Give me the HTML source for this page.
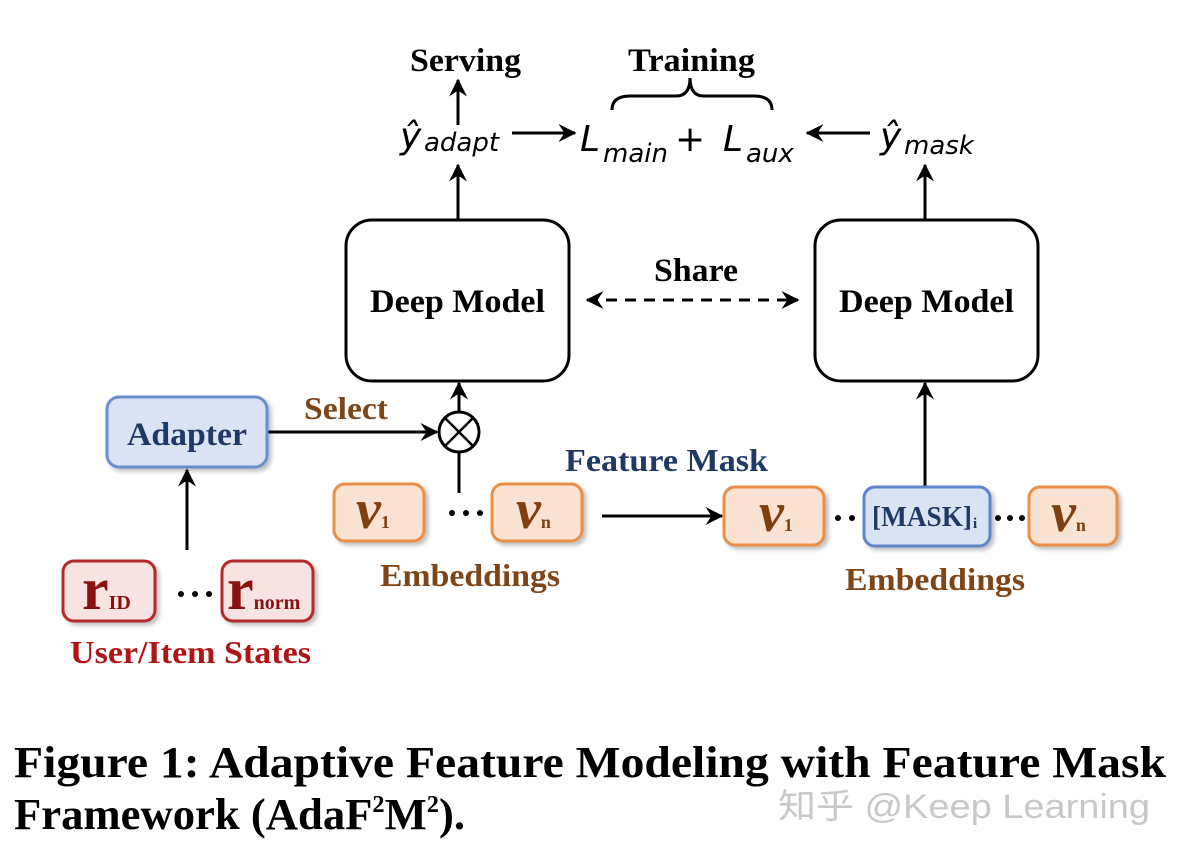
<!DOCTYPE html>
<html><head><meta charset="utf-8"><style>
html,body{margin:0;padding:0;background:#fff;}
svg{display:block;}
.b{font-family:"Liberation Serif",serif;font-weight:bold;}
.m{font-family:"DejaVu Sans","Liberation Sans",sans-serif;font-style:italic;}
</style></head><body>
<svg width="1180" height="858" viewBox="0 0 1180 858" xmlns="http://www.w3.org/2000/svg">
<defs>
<marker id="ah" viewBox="0 0 12 12" refX="11" refY="6" markerWidth="18" markerHeight="18" markerUnits="userSpaceOnUse" orient="auto-start-reverse">
<path d="M0,0 L12,6 L0,12 L4,6 Z" fill="#000"/></marker>
<filter id="s" x="-10%" y="-10%" width="130%" height="130%"><feDropShadow dx="3" dy="3" stdDeviation="2" flood-color="#000" flood-opacity="0.25"/></filter>
</defs>
<g stroke="#000" stroke-width="3" fill="none">
<line x1="458" y1="125" x2="458" y2="80" marker-end="url(#ah)"/>
<line x1="458" y1="220" x2="458" y2="165" marker-end="url(#ah)"/>
<line x1="925" y1="220" x2="925" y2="165" marker-end="url(#ah)"/>
<line x1="512" y1="133" x2="575" y2="133" marker-end="url(#ah)"/>
<line x1="870" y1="133" x2="807" y2="133" marker-end="url(#ah)"/>
<path d="M612,110 Q612,96 630,96 L676,96 Q690,96 690,78 Q690,96 704,96 L754,96 Q772,96 772,110"/>
<rect x="346" y="220" width="223" height="161" rx="26" fill="#fff"/>
<rect x="815" y="220" width="223" height="161" rx="26" fill="#fff"/>
<line x1="587" y1="300" x2="798" y2="300" stroke-dasharray="11,8" marker-start="url(#ah)" marker-end="url(#ah)"/>
<line x1="459" y1="412" x2="459" y2="383" marker-end="url(#ah)"/>
<circle cx="459" cy="432" r="20"/>
<line x1="445" y1="418" x2="473" y2="446" stroke-width="2.5"/>
<line x1="473" y1="418" x2="445" y2="446" stroke-width="2.5"/>
<line x1="459" y1="452" x2="459" y2="493"/>
<line x1="267" y1="432" x2="437" y2="432" marker-end="url(#ah)"/>
<line x1="187" y1="550" x2="187" y2="470" marker-end="url(#ah)"/>
<line x1="602" y1="516" x2="722" y2="516" marker-end="url(#ah)"/>
<line x1="925" y1="487" x2="925" y2="383" marker-end="url(#ah)"/>
</g>
<g filter="url(#s)" stroke-width="3">
<rect x="107" y="397" width="160" height="70" rx="12" fill="#dae3f3" stroke="#6b8fd0"/>
<rect x="63" y="561" width="92" height="60" rx="11" fill="#f8e3e3" stroke="#b52a2a"/>
<rect x="222" y="561" width="91" height="60" rx="11" fill="#f8e3e3" stroke="#b52a2a"/>
<rect x="334" y="484" width="90" height="57" rx="11" fill="#fbe3d3" stroke="#e98f47"/>
<rect x="492" y="484" width="90" height="57" rx="11" fill="#fbe3d3" stroke="#e98f47"/>
<rect x="724" y="487" width="100" height="58" rx="11" fill="#fbe3d3" stroke="#e98f47"/>
<rect x="864" y="487" width="126" height="59" rx="11" fill="#dae3f3" stroke="#5f86cc"/>
<rect x="1029" y="487" width="88" height="58" rx="11" fill="#fbe3d3" stroke="#e98f47"/>
</g>
<g fill="#000">
<circle cx="181" cy="594" r="3"/><circle cx="195" cy="594" r="3"/><circle cx="209" cy="594" r="3"/>
<circle cx="452" cy="513" r="3"/><circle cx="466" cy="513" r="3"/><circle cx="480" cy="513" r="3"/>
<circle cx="838" cy="518" r="3"/><circle cx="852" cy="518" r="3"/>
<circle cx="998" cy="518" r="3"/><circle cx="1010" cy="518" r="3"/><circle cx="1022" cy="518" r="3"/>
</g>
<g class="b" lengthAdjust="spacingAndGlyphs">
<text x="410" y="71" font-size="33" textLength="111" lengthAdjust="spacingAndGlyphs">Serving</text>
<text x="628" y="71" font-size="33" textLength="127" lengthAdjust="spacingAndGlyphs">Training</text>
<text x="370" y="312" font-size="33" textLength="175" lengthAdjust="spacingAndGlyphs">Deep Model</text>
<text x="839" y="312" font-size="33" textLength="175" lengthAdjust="spacingAndGlyphs">Deep Model</text>
<text x="654" y="281" font-size="33" textLength="84" lengthAdjust="spacingAndGlyphs">Share</text>
<text x="127" y="445" font-size="33" fill="#203864" textLength="120" lengthAdjust="spacingAndGlyphs">Adapter</text>
<text x="304" y="419" font-size="32" fill="#7f4516" textLength="84" lengthAdjust="spacingAndGlyphs">Select</text>
<text x="565" y="471" font-size="32" fill="#203864" textLength="203" lengthAdjust="spacingAndGlyphs">Feature Mask</text>
<text x="380" y="586" font-size="32" fill="#7f4516" textLength="180" lengthAdjust="spacingAndGlyphs">Embeddings</text>
<text x="845" y="590" font-size="32" fill="#7f4516" textLength="180" lengthAdjust="spacingAndGlyphs">Embeddings</text>
<text x="70" y="663" font-size="32" fill="#b01515" textLength="241" lengthAdjust="spacingAndGlyphs">User/Item States</text>
<text x="82" y="609" font-size="60" fill="#8b1010">r<tspan font-size="20">ID</tspan></text>
<text x="227" y="609" font-size="60" fill="#8b1010">r<tspan font-size="20">norm</tspan></text>
<g font-style="italic" fill="#7f3f10">
<text x="356" y="528" font-size="56">v<tspan font-size="18" font-style="normal">1</tspan></text>
<text x="516" y="528" font-size="56">v<tspan font-size="18" font-style="normal">n</tspan></text>
<text x="759" y="531" font-size="56">v<tspan font-size="18" font-style="normal">1</tspan></text>
<text x="1051" y="531" font-size="56">v<tspan font-size="18" font-style="normal">n</tspan></text>
</g>
<text x="872" y="526" font-size="28" fill="#203864" textLength="100" lengthAdjust="spacingAndGlyphs">[MASK]</text>
<text x="973" y="528" font-size="15" fill="#203864">i</text>
</g>
<g class="m">
<text x="400" y="148" font-size="36">ŷ</text>
<text x="424" y="151" font-size="26">adapt</text>
<text x="580" y="151" font-size="36">L</text>
<text x="603" y="162" font-size="26">main</text>
<text x="675" y="151" font-size="36" font-style="normal">+</text>
<text x="723" y="151" font-size="36">L</text>
<text x="746" y="162" font-size="26">aux</text>
<text x="880" y="148" font-size="36">ŷ</text>
<text x="904" y="154" font-size="26">mask</text>
</g>
<text class="b" x="14" y="777" font-size="44" textLength="1152" lengthAdjust="spacingAndGlyphs">Figure 1: Adaptive Feature Modeling with Feature Mask</text>
<text class="b" x="14" y="829" font-size="44" textLength="451" lengthAdjust="spacingAndGlyphs">Framework (AdaF<tspan font-size="24" dy="-17">2</tspan><tspan dy="17">M</tspan><tspan font-size="24" dy="-17">2</tspan><tspan dy="17">).</tspan></text>
<text x="778" y="818" font-size="34" fill="#c8c8c8" font-family="Liberation Sans, Noto Sans CJK SC, sans-serif" textLength="372" lengthAdjust="spacingAndGlyphs">知乎 @Keep Learning</text>
</svg>
</body></html>
